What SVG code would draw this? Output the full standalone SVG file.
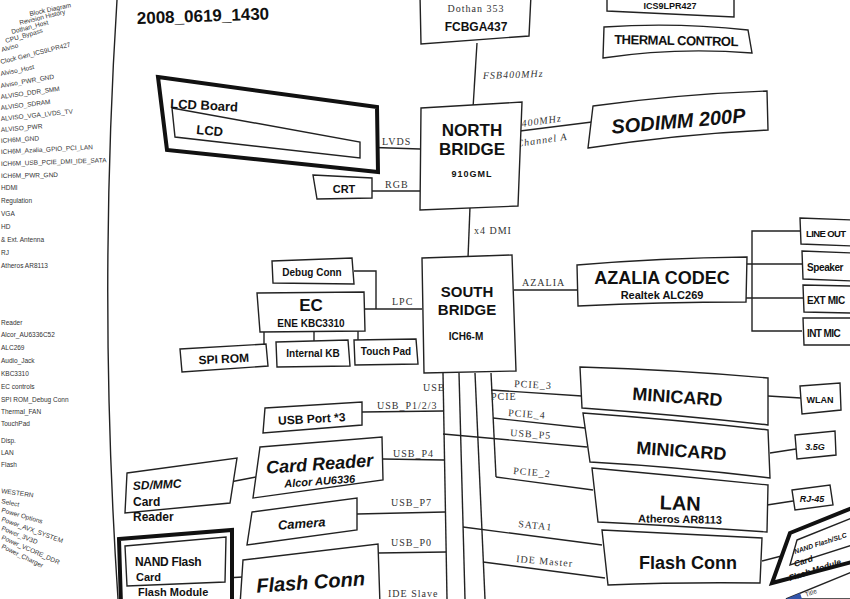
<svg xmlns="http://www.w3.org/2000/svg" width="850" height="599" viewBox="0 0 850 599">
<style>
.b{fill:#fff;stroke:#222;stroke-width:1.4}
.tk{fill:#fff;stroke:#111;stroke-width:4}
.ln{fill:none;stroke:#222;stroke-width:1.4}
.t{font-family:"Liberation Sans",Arial,sans-serif;font-weight:bold;fill:#111;text-anchor:middle}
.tl{font-family:"Liberation Sans",Arial,sans-serif;font-weight:bold;fill:#111}
.lb{font-family:"Liberation Serif","Times New Roman",serif;font-size:10px;fill:#333;letter-spacing:1px}
.m{font-family:"Liberation Sans",Arial,sans-serif;font-size:6.5px;fill:#333}
</style>
<rect width="850" height="599" fill="#fff"/>
<path class="ln" d="M117,0 Q98,300 118,599"/>
<g id="margin-text">
<text class="m" transform="translate(30,16) rotate(-12)">Block Diagram</text>
<text class="m" transform="translate(20,25) rotate(-14)">Revision History</text>
<text class="m" transform="translate(12,34) rotate(-15)">Dothan_Host</text>
<text class="m" transform="translate(6,43) rotate(-16)">CPU_Bypass</text>
<text class="m" transform="translate(2,52) rotate(-16)">Alviso</text>
<text class="m" transform="translate(1,64) rotate(-14)">Clock Gen_ICS9LPR427</text>
<text class="m" transform="translate(1,76) rotate(-12)">Alviso_Host</text>
<text class="m" transform="translate(1,88) rotate(-10)">Alviso_PWR_GND</text>
<text class="m" transform="translate(1,99) rotate(-8)">ALVISO_DDR_SMM</text>
<text class="m" transform="translate(1,110) rotate(-7)">ALVISO_SDRAM</text>
<text class="m" transform="translate(1,121) rotate(-6)">ALVISO_VGA_LVDS_TV</text>
<text class="m" transform="translate(1,132) rotate(-5)">ALVISO_PWR</text>
<text class="m" transform="translate(1,143) rotate(-4)">ICH6M_GND</text>
<text class="m" transform="translate(1,154) rotate(-3)">ICH6M_Azalia_GPIO_PCI_LAN</text>
<text class="m" transform="translate(1,166) rotate(-2)">ICH6M_USB_PCIE_DMI_IDE_SATA</text>
<text class="m" transform="translate(1,178) rotate(-1)">ICH6M_PWR_GND</text>
<text class="m" x="1" y="190">HDMI</text>
<text class="m" x="1" y="203">Regulation</text>
<text class="m" x="1" y="216">VGA</text>
<text class="m" x="1" y="229">HD</text>
<text class="m" x="1" y="242">&amp; Ext. Antenna</text>
<text class="m" x="1" y="255">RJ</text>
<text class="m" x="1" y="268">Atheros AR8113</text>
<text class="m" x="1" y="325">Reader</text>
<text class="m" x="1" y="337">Alcor_AU6336C52</text>
<text class="m" x="1" y="350">ALC269</text>
<text class="m" x="1" y="363">Audio_Jack</text>
<text class="m" x="1" y="376">KBC3310</text>
<text class="m" x="1" y="389">EC controls</text>
<text class="m" x="1" y="402">SPI ROM_Debug Conn</text>
<text class="m" x="1" y="414">Thermal_FAN</text>
<text class="m" x="1" y="426">TouchPad</text>
<text class="m" x="1" y="443">Disp.</text>
<text class="m" x="1" y="455">LAN</text>
<text class="m" x="1" y="467">Flash</text>
<text class="m" transform="translate(1,493) rotate(8)">WESTERN</text>
<text class="m" transform="translate(1,503) rotate(12)">Select</text>
<text class="m" transform="translate(1,512) rotate(16)">Power Options</text>
<text class="m" transform="translate(1,521) rotate(20)">Power_AVX_SYSTEM</text>
<text class="m" transform="translate(1,530) rotate(22)">Power_3V3D</text>
<text class="m" transform="translate(1,539) rotate(24)">Power_VCORE_DDR</text>
<text class="m" transform="translate(1,548) rotate(26)">Power_Charger</text>
</g>
<text class="tl" font-size="17" transform="translate(137,24) rotate(-2)">2008_0619_1430</text>
<g id="connectors">
<path class="ln" d="M477,43 L473,108"/>
<path class="ln" d="M520,131 L592,122"/>
<path class="ln" d="M360,147 L420,149"/>
<path class="ln" d="M372,191 L420,191"/>
<path class="ln" d="M470,207 L468,258"/>
<path class="ln" d="M354,271 L376,271 L376,309"/>
<path class="ln" d="M364,309 L422,309"/>
<path class="ln" d="M264,331 L264,345"/>
<path class="ln" d="M314,331 L314,341"/>
<path class="ln" d="M358,331 L358,340"/>
<path class="ln" d="M514,290 L577,290"/>
<path class="ln" d="M800,231 L752,231 L752,331 L802,331"/>
<path class="ln" d="M746,264 L802,264"/>
<path class="ln" d="M746,298 L803,298"/>
<path class="ln" d="M443,373 L447,599"/>
<path class="ln" d="M459,373 L465,599"/>
<path class="ln" d="M475,373 L485,599"/>
<path class="ln" d="M491,373 L496,477"/>
<path class="ln" d="M491,390 L582,396"/>
<path class="ln" d="M493,418 L585,428"/>
<path class="ln" d="M443,434 L587,447"/>
<path class="ln" d="M496,477 L593,490"/>
<path class="ln" d="M463,527 L602,545"/>
<path class="ln" d="M483,562 L605,578"/>
<path class="ln" d="M362,412 L443,411"/>
<path class="ln" d="M383,459 L444,460"/>
<path class="ln" d="M357,514 L445,512"/>
<path class="ln" d="M378,553 L446,552"/>
<path class="ln" d="M230,482 L256,477"/>
<path class="ln" d="M225,578 L243,577"/>
<path class="ln" d="M768,396 L801,398"/>
<path class="ln" d="M770,453 L796,449"/>
<path class="ln" d="M767,505 L793,501"/>
<path class="ln" d="M762,561 L793,553"/>
<text class="lb" transform="translate(483,79) rotate(-2)" font-style="italic">FSB400MHz</text>
<text class="lb" transform="translate(522,127) rotate(-8)" font-style="italic">400MHz</text>
<text class="lb" transform="translate(517,147) rotate(-8)" font-style="italic">Channel A</text>
<text class="lb" x="382" y="145" font-size="9">LVDS</text>
<text class="lb" x="385" y="188" font-size="8">RGB</text>
<text class="lb" x="474" y="234" font-size="9">x4 DMI</text>
<text class="lb" x="392" y="305" font-size="9">LPC</text>
<text class="lb" x="522" y="286" font-size="9">AZALIA</text>
<text class="lb" x="423" y="391" font-size="9">USB</text>
<text class="lb" x="377" y="409" font-size="9">USB_P1/2/3</text>
<text class="lb" x="393" y="457" font-size="9">USB_P4</text>
<text class="lb" x="391" y="506" font-size="9">USB_P7</text>
<text class="lb" x="391" y="546" font-size="9">USB_P0</text>
<text class="lb" x="388" y="597" font-size="11">IDE Slave</text>
<text class="lb" transform="translate(514,387) rotate(3)" font-size="9">PCIE_3</text>
<text class="lb" x="491" y="400" font-size="8">PCIE</text>
<text class="lb" transform="translate(508,416) rotate(4)" font-size="9">PCIE_4</text>
<text class="lb" transform="translate(510,436) rotate(4)" font-size="9">USB_P5</text>
<text class="lb" transform="translate(513,474) rotate(5)" font-size="10">PCIE_2</text>
<text class="lb" transform="translate(518,527) rotate(6)" font-size="11">SATA1</text>
<text class="lb" transform="translate(516,562) rotate(5)" font-size="11">IDE Master</text>
</g>
<g id="cpu"><polygon class="b" points="420,-5 531,-5 529,36 421,44"/>
<text class="lb" x="476" y="12" font-size="10" text-anchor="middle" letter-spacing="0.5">Dothan 353</text>
<text class="t" x="476" y="31" font-size="12">FCBGA437</text></g>
<g id="clockgen"><polygon class="b" points="607,-5 734,-5 734,17 607,11"/>
<text class="t" x="670" y="9" font-size="9">ICS9LPR427</text></g>
<g id="thermal"><path class="b" d="M604,27 Q675,22 748,30 L752,53 Q676,47 603,58 Z"/>
<text class="t" transform="translate(676,45) rotate(1)" font-size="13" style="letter-spacing:-0.5px">THERMAL CONTROL</text></g>
<g id="northbridge"><polygon class="b" points="421,108 522,102 518,206 420,210"/>
<text class="t" x="472" y="136" font-size="17">NORTH</text>
<text class="t" x="472" y="155" font-size="17">BRIDGE</text>
<text class="t" x="472" y="177" font-size="9" font-weight="normal" letter-spacing="1">910GML</text></g>
<g id="sodimm"><path class="b" d="M593,106 Q680,94 767,91 L768,130 Q680,134 588,148 Z"/>
<text class="t" transform="translate(679,128) rotate(-5)" font-size="20" font-style="italic">SODIMM 200P</text></g>
<g id="lcdboard"><polygon class="tk" points="158,77 377,107 378,172 167,150"/>
<polygon class="b" points="172,108 360,142 360,158 175,137" stroke-width="1"/>
<text class="tl" transform="translate(170,108) rotate(3)" font-size="13">LCD Board</text>
<text class="tl" transform="translate(196,134) rotate(5)" font-size="13">LCD</text></g>
<g id="crt"><polygon class="b" points="313,175 372,178 372,198 317,199"/>
<text class="t" x="344" y="193" font-size="11">CRT</text></g>
<g id="southbridge"><polygon class="b" points="422,258 512,255 516,371 424,373"/>
<text class="t" x="467" y="297" font-size="15">SOUTH</text>
<text class="t" x="467" y="315" font-size="15">BRIDGE</text>
<text class="t" x="466" y="340" font-size="10" font-weight="normal">ICH6-M</text></g>
<g id="debug"><polygon class="b" points="272,261 352,258 354,284 273,283"/>
<text class="t" x="312" y="276" font-size="10">Debug Conn</text></g>
<g id="ec"><polygon class="b" points="257,293 364,292 365,331 260,332"/>
<text class="t" x="311" y="311" font-size="17">EC</text>
<text class="t" x="311" y="327" font-size="10">ENE KBC3310</text></g>
<g id="spirom"><polygon class="b" points="180,349 266,344 268,366 182,372"/>
<text class="t" transform="translate(224,363) rotate(-3)" font-size="12">SPI ROM</text></g>
<g id="kb"><polygon class="b" points="276,342 348,340 350,366 277,367"/>
<text class="t" x="313" y="357" font-size="10">Internal KB</text></g>
<g id="touchpad"><polygon class="b" points="354,340 416,339 418,364 355,365"/>
<text class="t" x="386" y="355" font-size="10">Touch Pad</text></g>
<g id="codec"><path class="b" d="M577,265 Q660,258 747,257 L746,302 Q660,302 578,306 Z"/>
<text class="t" x="662" y="284" font-size="18">AZALIA CODEC</text>
<text class="t" x="662" y="299" font-size="11">Realtek ALC269</text></g>
<g id="lineout"><polygon class="b" points="800,218 852,220 852,246 801,244"/><text class="tl" x="806" y="237" font-size="9.5" letter-spacing="-0.6">LINE OUT</text></g>
<g id="speaker"><polygon class="b" points="802,251 852,253 852,281 803,279"/><text class="tl" x="807" y="271" font-size="10" letter-spacing="-0.4">Speaker</text></g>
<g id="extmic"><polygon class="b" points="803,285 852,286 852,313 804,312"/><text class="tl" x="807" y="304" font-size="10" font-weight="normal" letter-spacing="-0.4">EXT MIC</text></g>
<g id="intmic"><polygon class="b" points="803,318 852,318 852,345 804,345"/><text class="tl" x="807" y="337" font-size="10" letter-spacing="-0.6">INT MIC</text></g>
<g id="minicard1"><path class="b" d="M580,367 Q680,370 768,378 L768,425 Q680,415 582,408 Z"/>
<text class="t" transform="translate(677,403) rotate(4)" font-size="18">MINICARD</text></g>
<g id="minicard2"><path class="b" d="M583,413 Q680,420 768,430 L770,478 Q680,467 590,462 Z"/>
<text class="t" transform="translate(681,457) rotate(4)" font-size="18">MINICARD</text></g>
<g id="lan"><path class="b" d="M592,468 Q680,476 768,485 L767,532 Q680,526 598,522 Z"/>
<text class="t" transform="translate(680,510) rotate(2)" font-size="20">LAN</text>
<text class="t" transform="translate(680,523) rotate(1)" font-size="11">Atheros AR8113</text></g>
<g id="flashconn-r"><path class="b" d="M602,530 Q680,534 762,538 L760,583 Q680,582 608,585 Z"/>
<text class="t" x="688" y="569" font-size="18">Flash Conn</text></g>
<g id="wlan"><polygon class="b" points="800,386 840,383 841,410 802,414"/><text class="t" x="820" y="403" font-size="9">WLAN</text></g>
<g id="g35"><polygon class="b" points="795,435 835,431 836,455 797,459"/><text class="t" x="815" y="450" font-size="9" font-style="italic">3.5G</text></g>
<g id="rj45"><polygon class="b" points="792,490 830,485 833,505 795,510"/><text class="t" x="812" y="502" font-size="9" font-style="italic">RJ-45</text></g>
<g id="nand-r"><polygon class="tk" points="790,533 852,508 852,562 772,583" stroke-width="3"/>
<polygon class="b" points="797,540 852,518 852,545 790,565" stroke-width="1"/>
<text class="tl" transform="translate(795,554) rotate(-18)" font-size="6.8" font-style="italic" font-weight="normal">NAND Flash/SLC</text>
<text class="tl" transform="translate(795,567) rotate(-18)" font-size="8.5" font-style="italic" font-weight="normal">Card</text>
<text class="tl" transform="translate(790,581) rotate(-18)" font-size="8.5" font-style="italic" font-weight="normal">Flash Module</text></g>
<g id="titleblock"><polygon class="b" points="786,599 852,572 852,599"/>
<polygon points="786,599 800,593 802,599" fill="#3355aa"/>
<text class="m" transform="translate(806,597) rotate(-20)">Title</text></g>
<g id="usbport"><polygon class="b" points="265,408 362,402 362,425 263,433"/>
<text class="t" transform="translate(312,423) rotate(-3)" font-size="12" font-weight="normal">USB Port *3</text></g>
<g id="cardreader"><polygon class="b" points="260,447 382,437 383,480 253,498"/>
<text class="t" transform="translate(320,470) rotate(-4)" font-size="18" font-style="italic">Card Reader</text>
<text class="t" transform="translate(320,485) rotate(-4)" font-size="11" font-style="italic">Alcor AU6336</text></g>
<g id="sdmmc"><polygon class="b" points="127,473 237,458 230,503 125,513"/>
<text class="tl" transform="translate(133,490) rotate(-3)" font-size="12" font-style="italic">SD/MMC</text>
<text class="tl" x="133" y="506" font-size="12">Card</text>
<text class="tl" x="133" y="521" font-size="12">Reader</text></g>
<g id="camera"><polygon class="b" points="252,512 357,498 357,530 247,545"/>
<text class="t" transform="translate(302,528) rotate(-4)" font-size="13" font-style="italic">Camera</text></g>
<g id="flashconn-l"><polygon class="b" points="243,560 378,544 380,605 240,605"/>
<text class="t" transform="translate(311,589) rotate(-4)" font-size="20" font-style="italic">Flash Conn</text></g>
<g id="nand-l"><polygon class="tk" points="119,539 232,530 232,605 121,605" stroke-width="3.5"/>
<polygon class="b" points="125,546 226,537 225,582 127,586" stroke-width="1"/>
<text class="tl" x="135" y="566" font-size="12" letter-spacing="-0.3">NAND Flash</text>
<text class="tl" x="136" y="581" font-size="11">Card</text>
<text class="tl" x="138" y="596" font-size="11">Flash Module</text></g>
</svg>
